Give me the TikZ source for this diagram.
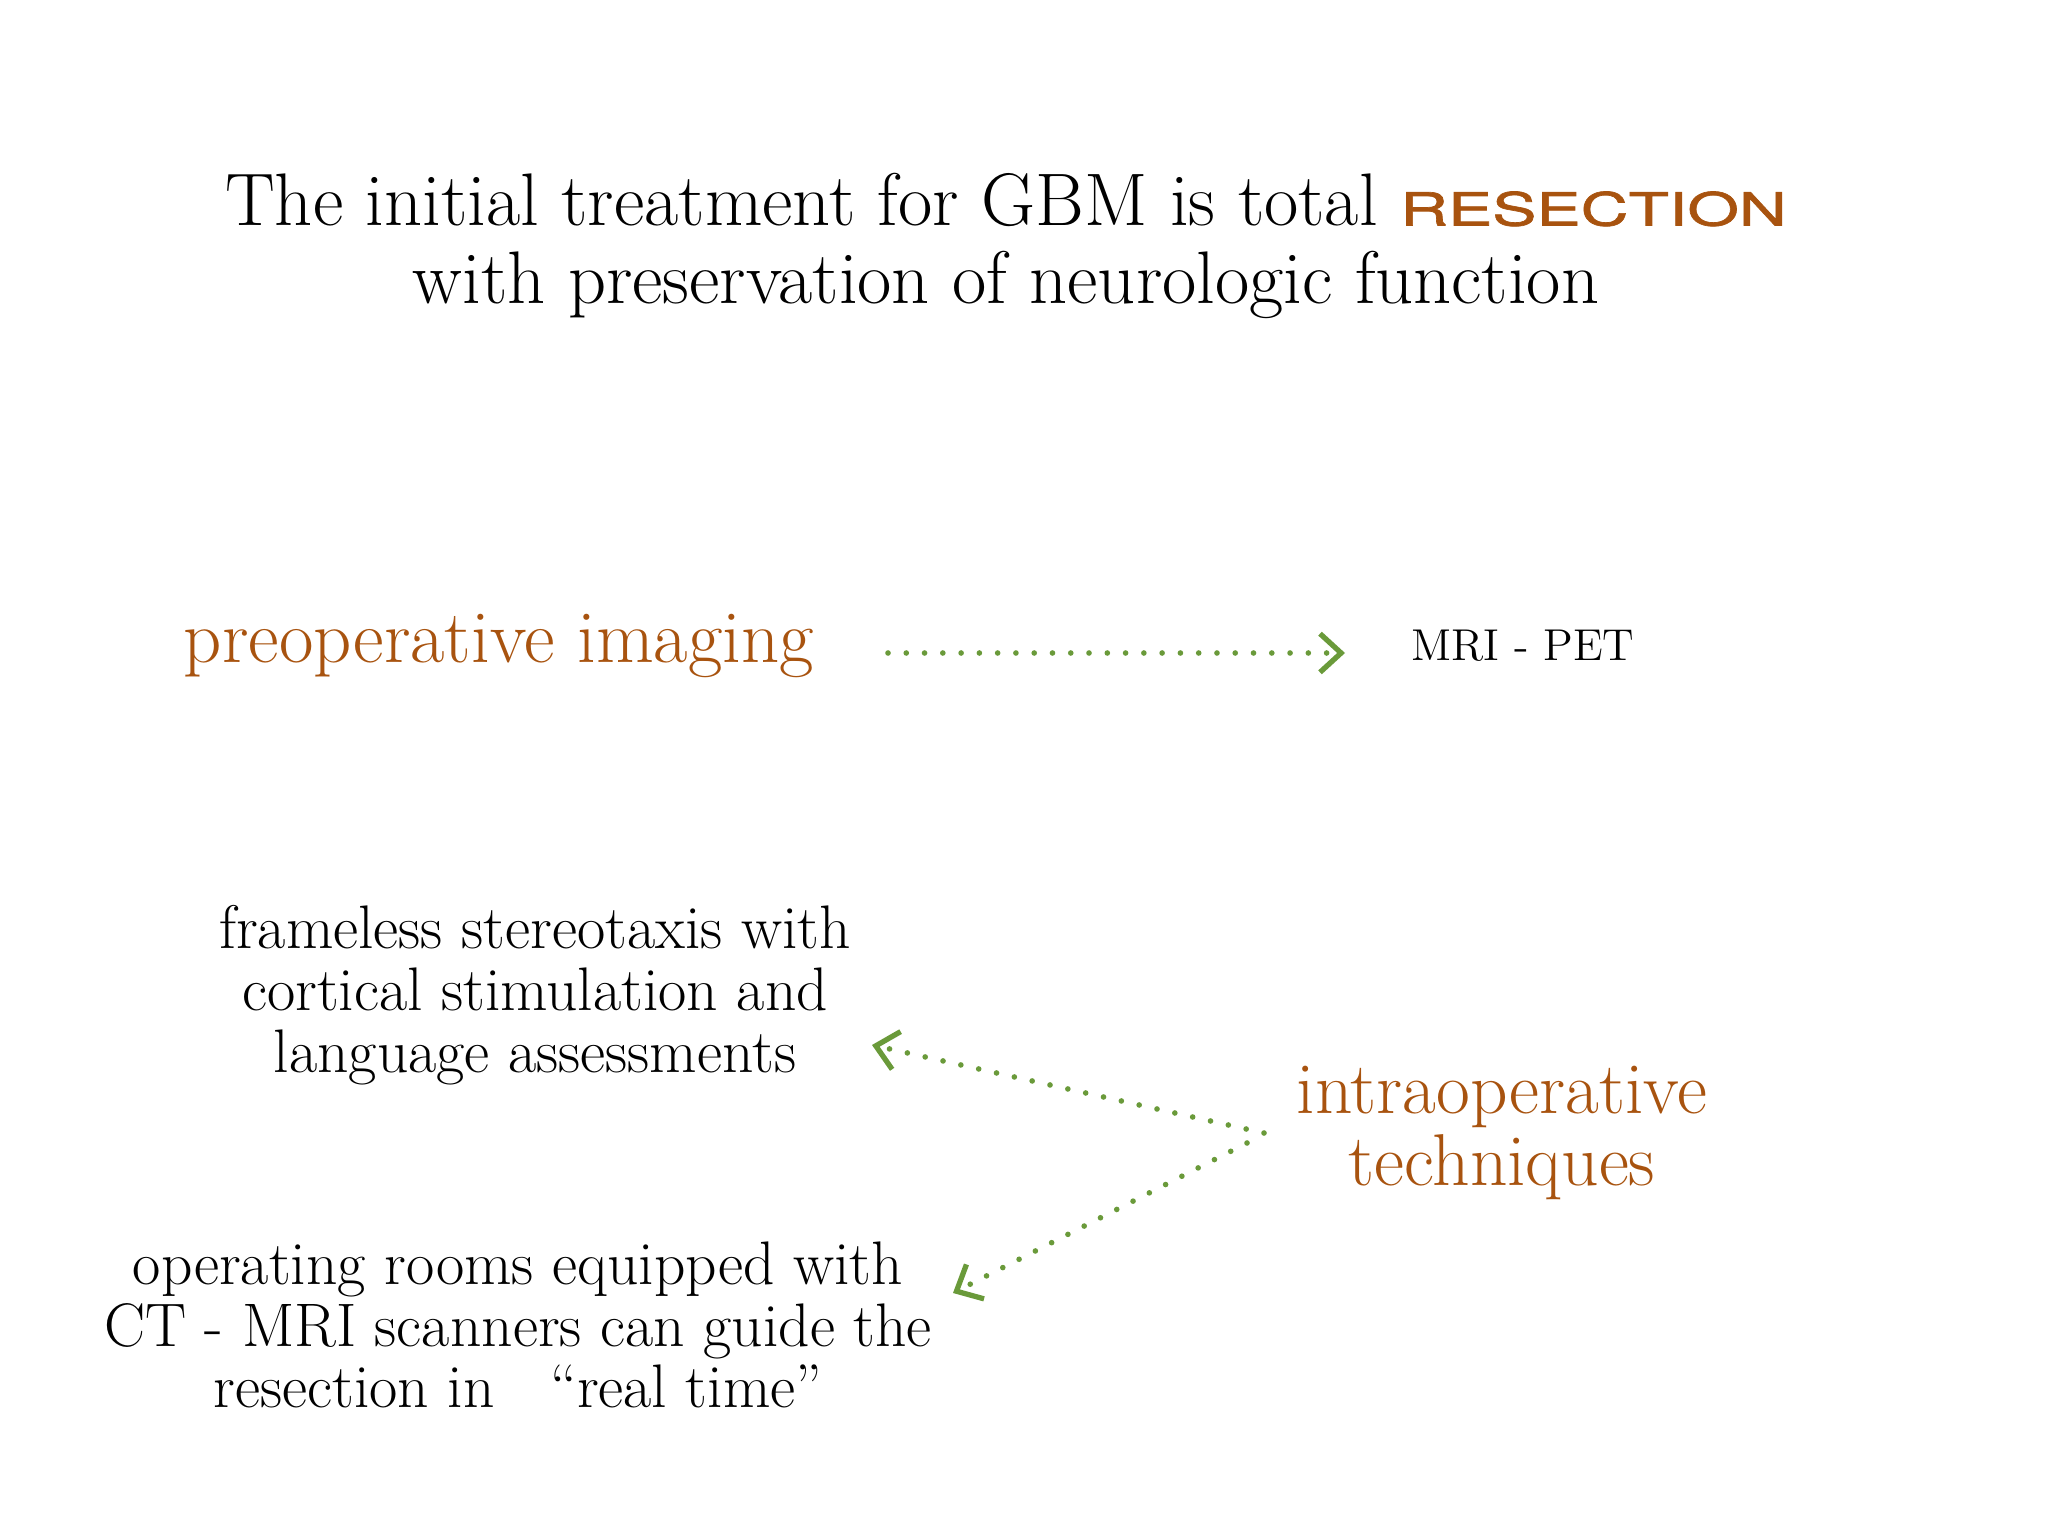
\documentclass[tikz,border=0pt]{standalone}
\usepackage{fontspec}
\newfontfamily\wide[FakeStretch=1.45,FakeBold=1.5]{TeX Gyre Heros}
\usetikzlibrary{arrows.meta}
\definecolor{rust}{HTML}{A8530F}
\definecolor{leaf}{HTML}{6A9A3A}
\tikzset{
 orange/.style={text=rust,font=\fontsize{21.3}{25}\selectfont,align=center},
 body/.style={font=\fontsize{17.5}{17.6}\selectfont,align=center},
 link/.style={leaf,line width=1.6pt,line cap=round,dash pattern=on 0pt off 5.2pt,-{Straight Barb[length=6pt,width=11pt,line width=1.5pt,line cap=butt]}}
}
\begin{document}
\begin{tikzpicture}
\useasboundingbox (0,0) rectangle (20.48,-15.36);
\node[font=\fontsize{21.2}{22.2}\selectfont,align=center] (title) at (10.06,-2.46)
 {The initial treatment for GBM is total {\color{rust}\wide\fontsize{13}{13}\selectfont RESECTION}\\with preservation of neurologic function};
\node[orange] (pre) at (4.99,-6.46) {preoperative imaging};
\node[font=\fontsize{12.7}{17}\selectfont] (mri) at (15.23,-6.46) {MRI - PET};
\coordinate (a1) at (8.88,-6.53);
\coordinate (a2) at (13.45,-6.53);
\draw[link] (a1) -- (a2);
\node[body] (fs) at (5.35,-9.95) {frameless stereotaxis with\\cortical stimulation and\\language assessments};
\node[orange,font=\fontsize{20.9}{20.5}\selectfont] (intra) at (15.02,-11.33) {intraoperative\\techniques};
\node[body] (or) at (5.18,-13.25) {operating rooms equipped with\\CT - MRI scanners can guide the\\resection in \ \ ``real time''};
\coordinate (s) at (12.64,-11.33);
\coordinate (s2) at (12.47,-11.43);
\coordinate (t1) at (8.72,-10.45);
\coordinate (t2) at (9.53,-12.93);
\draw[link] (s) -- (t1);
\draw[link] (s2) -- (t2);
\end{tikzpicture}
\end{document}
